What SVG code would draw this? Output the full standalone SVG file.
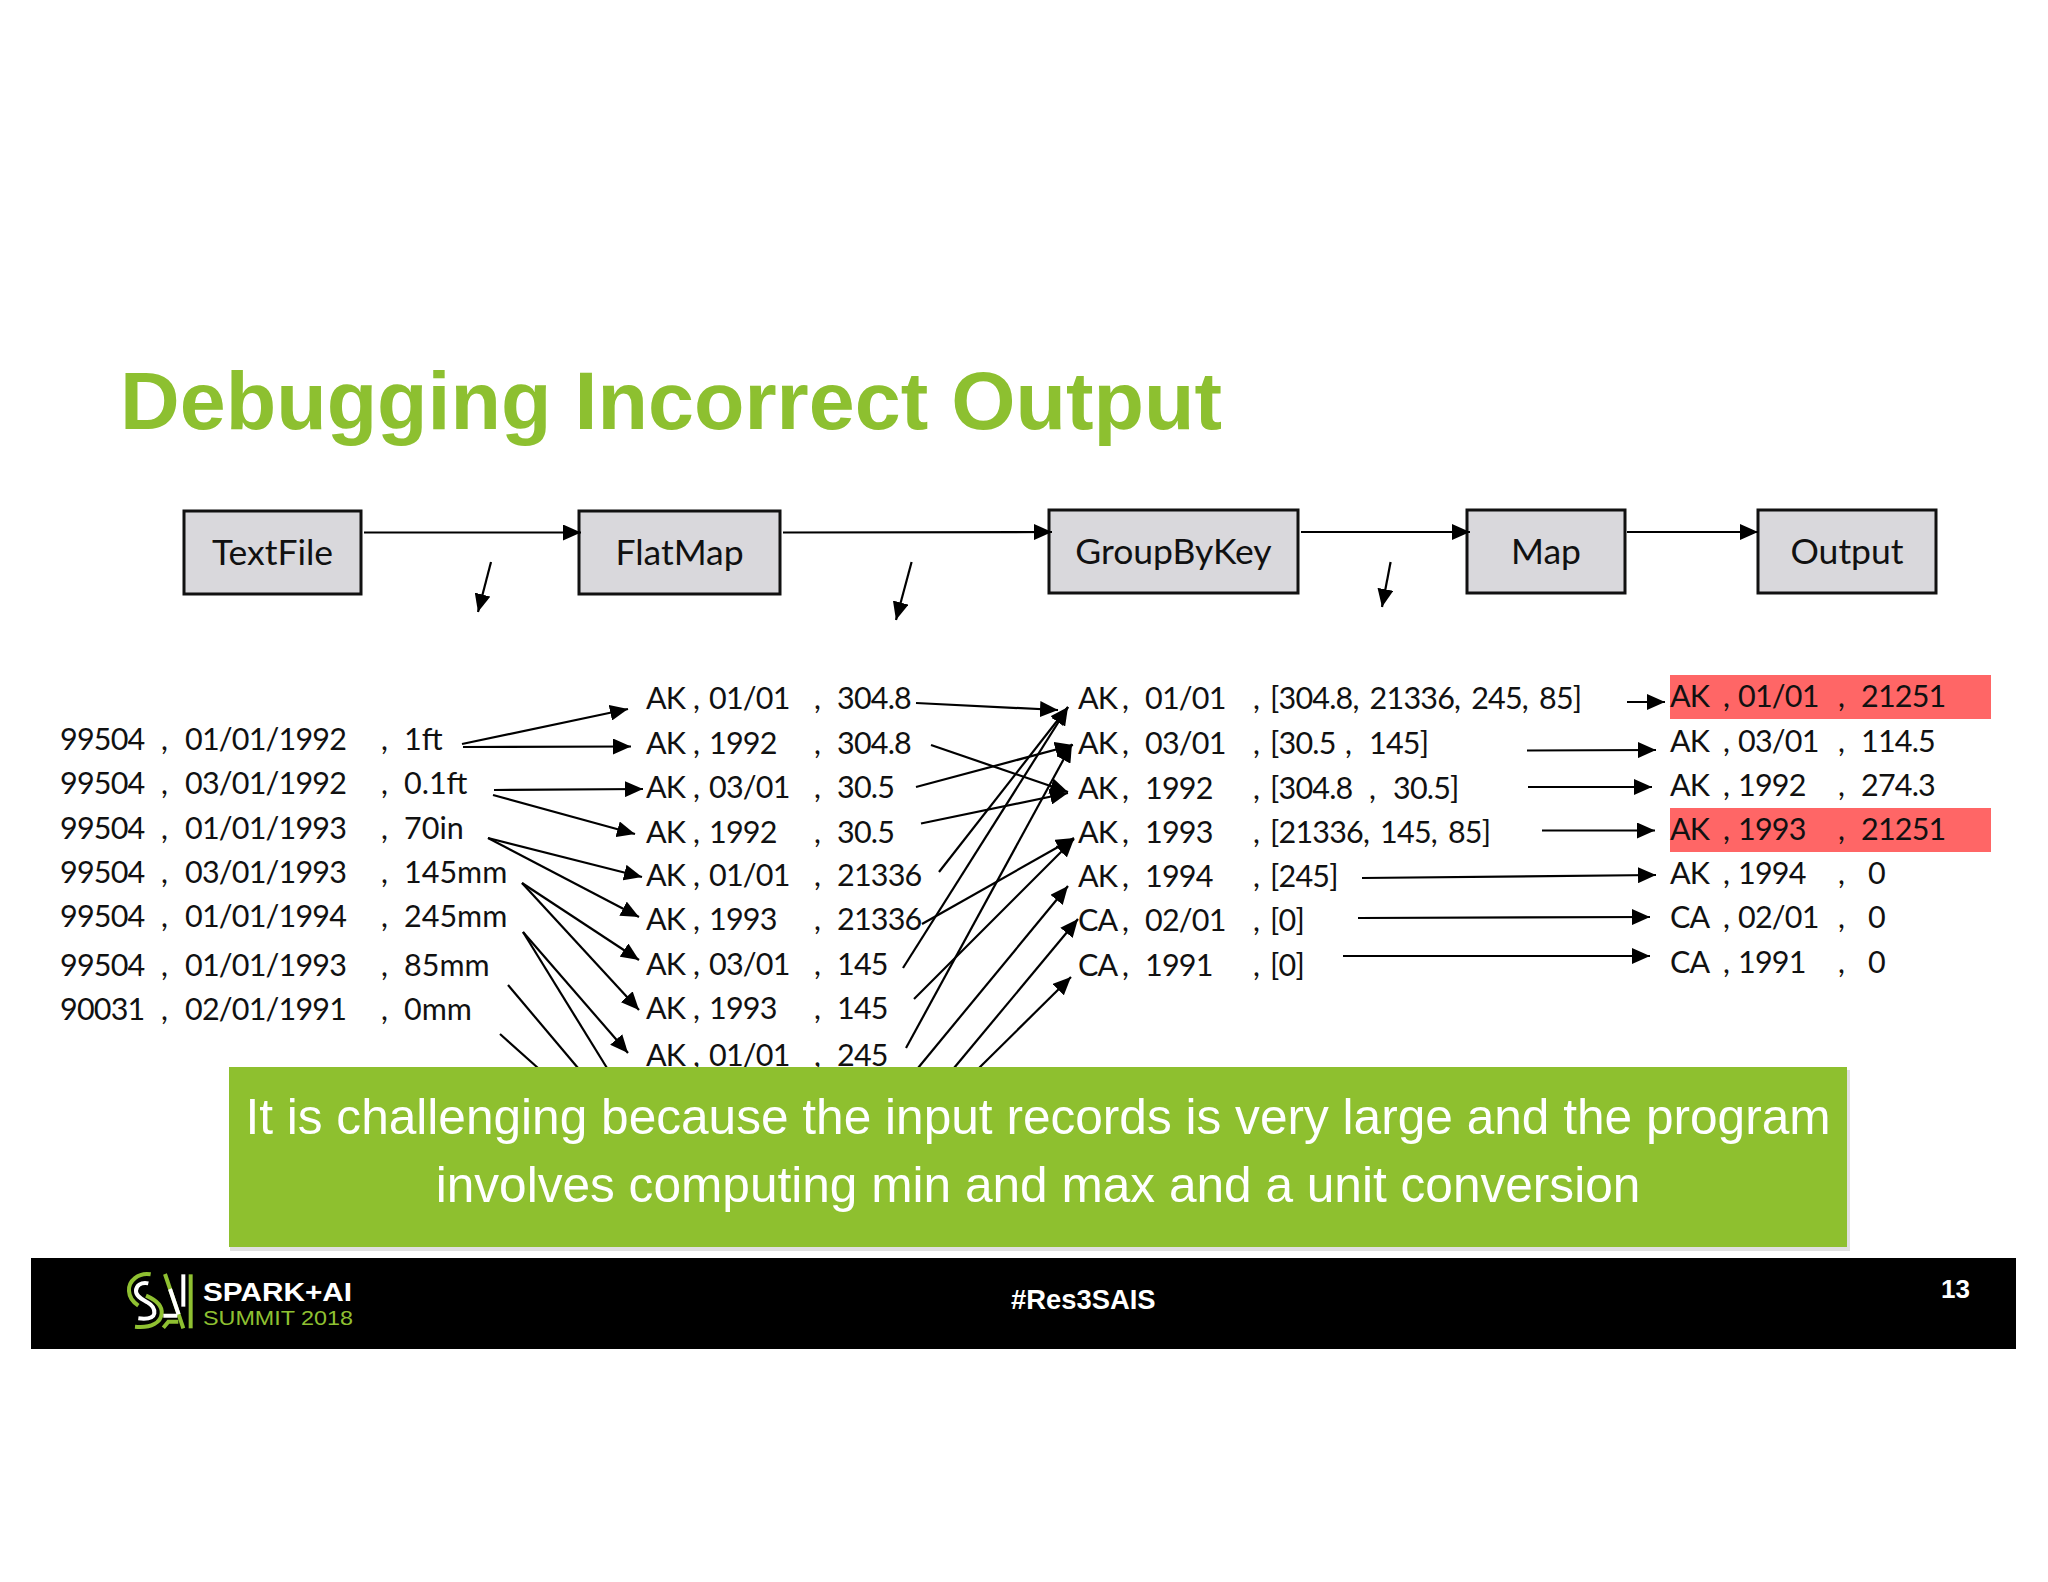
<svg xmlns="http://www.w3.org/2000/svg" width="2048" height="1582" viewBox="0 0 2048 1582">
<style>
.t{font-family:"Lato","Carlito","Liberation Sans",sans-serif;font-size:30.500px;fill:#111;letter-spacing:-.8px;word-spacing:4px}
.u{letter-spacing:0}
.b{font-family:"Lato","Carlito","Liberation Sans",sans-serif;font-size:35.500px;fill:#111;text-anchor:middle}
.box{fill:#d9d8dc;stroke:#111;stroke-width:3}
.a{fill:none;stroke:#000;stroke-width:2.200;marker-end:url(#ah)}
.l{fill:none;stroke:#000;stroke-width:2.200}
.s{font-family:"Liberation Sans",Arial,sans-serif}
.lg{fill:none;stroke:#8fc031;stroke-width:12}
.lw{fill:none;stroke:#fff;stroke-width:12}
</style>
<defs>
<marker id="ah" markerUnits="userSpaceOnUse" markerWidth="20" markerHeight="16" refX="18" refY="8" orient="auto"><path d="M0 0L18 8L0 16Z" fill="#000"/></marker>
</defs>
<rect width="2048" height="1582" fill="#fff"/>
<text id="title" class="s" x="120" y="429" font-size="82" font-weight="700" fill="#8dc030" textLength="1102" lengthAdjust="spacingAndGlyphs">Debugging Incorrect Output</text>

<g id="node-textfile"><rect class="box" x="184" y="511" width="177" height="83"/><text class="b" x="272.500" y="565">TextFile</text></g>
<g id="node-flatmap"><rect class="box" x="579" y="511" width="201" height="83"/><text class="b" x="679.500" y="565">FlatMap</text></g>
<g id="node-groupbykey"><rect class="box" x="1049" y="510" width="249" height="83"/><text class="b" x="1173.500" y="564">GroupByKey</text></g>
<g id="node-map"><rect class="box" x="1467" y="510" width="158" height="83"/><text class="b" x="1546" y="564">Map</text></g>
<g id="node-output"><rect class="box" x="1758" y="510" width="178" height="83"/><text class="b" x="1847" y="564">Output</text></g>

<g id="highlights"><rect x="1670" y="675" width="321" height="44" fill="#ff6666"/><rect x="1670" y="808" width="321" height="44" fill="#ff6666"/></g>

<g id="connectors">
<path class="a" d="M364 532.500H581"/><path class="a" d="M783 532.500L1052 532"/><path class="a" d="M1301 532H1470"/><path class="a" d="M1627 532H1758"/>
<path class="a" d="M491 562L478 612"/><path class="a" d="M911.600 562L896 620"/><path class="a" d="M1390.600 562L1382 607"/>
<path class="a" d="M462 744L628 709"/><path class="a" d="M463 747L631 746.500"/><path class="a" d="M494 790L643 789"/><path class="a" d="M493 795L635 834"/>
<path class="a" d="M488 838L642 877"/><path class="a" d="M488 838L639 917"/><path class="a" d="M522 883L639 960"/><path class="a" d="M522 883L639 1010"/>
<path class="a" d="M523 932L628 1053"/><path class="l" d="M523 932L607 1068"/><path class="l" d="M508 985L578 1068"/><path class="l" d="M500 1034L538 1068"/>
<path class="a" d="M916 703L1058 710"/><path class="a" d="M931 745L1068 792"/><path class="a" d="M916 787L1073 745"/><path class="a" d="M921 823.500L1068 793"/>
<path class="a" d="M939 872L1068 707"/><path class="a" d="M922 924L1074 838"/><path class="a" d="M903 968L1068 707"/><path class="a" d="M914 999L1074 839"/>
<path class="a" d="M906 1048L1072 744"/><path class="a" d="M918 1068L1068 886"/><path class="a" d="M954 1068L1078 919"/><path class="a" d="M979 1068L1071 977"/>
<path class="a" d="M1627 702H1665"/><path class="a" d="M1527 750.500L1656 750"/><path class="a" d="M1528 787H1652"/><path class="a" d="M1542 830.500H1655"/><path class="a" d="M1362 878L1656 875"/><path class="a" d="M1358 918L1650 917"/><path class="a" d="M1343 956H1650"/>
</g>

<g id="input-records" class="t">
<text y="750"><tspan x="60">99504</tspan><tspan x="161">,</tspan><tspan x="185">01/01/1992</tspan><tspan x="381">,</tspan><tspan x="404" class="u">1ft</tspan></text>
<text y="794"><tspan x="60">99504</tspan><tspan x="161">,</tspan><tspan x="185">03/01/1992</tspan><tspan x="381">,</tspan><tspan x="404" class="u">0.1ft</tspan></text>
<text y="839"><tspan x="60">99504</tspan><tspan x="161">,</tspan><tspan x="185">01/01/1993</tspan><tspan x="381">,</tspan><tspan x="404" class="u">70in</tspan></text>
<text y="883"><tspan x="60">99504</tspan><tspan x="161">,</tspan><tspan x="185">03/01/1993</tspan><tspan x="381">,</tspan><tspan x="404" class="u">145mm</tspan></text>
<text y="927"><tspan x="60">99504</tspan><tspan x="161">,</tspan><tspan x="185">01/01/1994</tspan><tspan x="381">,</tspan><tspan x="404" class="u">245mm</tspan></text>
<text y="976"><tspan x="60">99504</tspan><tspan x="161">,</tspan><tspan x="185">01/01/1993</tspan><tspan x="381">,</tspan><tspan x="404" class="u">85mm</tspan></text>
<text y="1020"><tspan x="60">90031</tspan><tspan x="161">,</tspan><tspan x="185">02/01/1991</tspan><tspan x="381">,</tspan><tspan x="404" class="u">0mm</tspan></text>
</g>

<g id="flatmap-records" class="t">
<text y="709"><tspan x="646">AK</tspan><tspan x="693">,</tspan><tspan x="709">01/01</tspan><tspan x="814">,</tspan><tspan x="837">304.8</tspan></text>
<text y="754"><tspan x="646">AK</tspan><tspan x="693">,</tspan><tspan x="709">1992</tspan><tspan x="814">,</tspan><tspan x="837">304.8</tspan></text>
<text y="798"><tspan x="646">AK</tspan><tspan x="693">,</tspan><tspan x="709">03/01</tspan><tspan x="814">,</tspan><tspan x="837">30.5</tspan></text>
<text y="843"><tspan x="646">AK</tspan><tspan x="693">,</tspan><tspan x="709">1992</tspan><tspan x="814">,</tspan><tspan x="837">30.5</tspan></text>
<text y="886"><tspan x="646">AK</tspan><tspan x="693">,</tspan><tspan x="709">01/01</tspan><tspan x="814">,</tspan><tspan x="837">21336</tspan></text>
<text y="930"><tspan x="646">AK</tspan><tspan x="693">,</tspan><tspan x="709">1993</tspan><tspan x="814">,</tspan><tspan x="837">21336</tspan></text>
<text y="975"><tspan x="646">AK</tspan><tspan x="693">,</tspan><tspan x="709">03/01</tspan><tspan x="814">,</tspan><tspan x="837">145</tspan></text>
<text y="1019"><tspan x="646">AK</tspan><tspan x="693">,</tspan><tspan x="709">1993</tspan><tspan x="814">,</tspan><tspan x="837">145</tspan></text>
<text y="1066"><tspan x="646">AK</tspan><tspan x="693">,</tspan><tspan x="709">01/01</tspan><tspan x="814">,</tspan><tspan x="837">245</tspan></text>
</g>

<g id="group-records" class="t">
<text y="709"><tspan x="1078">AK</tspan><tspan x="1122">,</tspan><tspan x="1145">01/01</tspan><tspan x="1253">,</tspan><tspan x="1270">[304.8, 21336, 245, 85]</tspan></text>
<text y="754"><tspan x="1078">AK</tspan><tspan x="1122">,</tspan><tspan x="1145">03/01</tspan><tspan x="1253">,</tspan><tspan x="1270">[30.5</tspan><tspan x="1345">,</tspan><tspan x="1369">145]</tspan></text>
<text y="799"><tspan x="1078">AK</tspan><tspan x="1122">,</tspan><tspan x="1145">1992</tspan><tspan x="1253">,</tspan><tspan x="1270">[304.8</tspan><tspan x="1369">,</tspan><tspan x="1393">30.5]</tspan></text>
<text y="843"><tspan x="1078">AK</tspan><tspan x="1122">,</tspan><tspan x="1145">1993</tspan><tspan x="1253">,</tspan><tspan x="1270">[21336, 145, 85]</tspan></text>
<text y="887"><tspan x="1078">AK</tspan><tspan x="1122">,</tspan><tspan x="1145">1994</tspan><tspan x="1253">,</tspan><tspan x="1270">[245]</tspan></text>
<text y="931"><tspan x="1078">CA</tspan><tspan x="1122">,</tspan><tspan x="1145">02/01</tspan><tspan x="1253">,</tspan><tspan x="1270">[0]</tspan></text>
<text y="976"><tspan x="1078">CA</tspan><tspan x="1122">,</tspan><tspan x="1145">1991</tspan><tspan x="1253">,</tspan><tspan x="1270">[0]</tspan></text>
</g>

<g id="output-records" class="t">
<text y="707"><tspan x="1670">AK</tspan><tspan x="1723">,</tspan><tspan x="1738">01/01</tspan><tspan x="1838">,</tspan><tspan x="1861">21251</tspan></text>
<text y="752"><tspan x="1670">AK</tspan><tspan x="1723">,</tspan><tspan x="1738">03/01</tspan><tspan x="1838">,</tspan><tspan x="1861">114.5</tspan></text>
<text y="796"><tspan x="1670">AK</tspan><tspan x="1723">,</tspan><tspan x="1738">1992</tspan><tspan x="1838">,</tspan><tspan x="1861">274.3</tspan></text>
<text y="840"><tspan x="1670">AK</tspan><tspan x="1723">,</tspan><tspan x="1738">1993</tspan><tspan x="1838">,</tspan><tspan x="1861">21251</tspan></text>
<text y="884"><tspan x="1670">AK</tspan><tspan x="1723">,</tspan><tspan x="1738">1994</tspan><tspan x="1838">,</tspan><tspan x="1868">0</tspan></text>
<text y="928"><tspan x="1670">CA</tspan><tspan x="1723">,</tspan><tspan x="1738">02/01</tspan><tspan x="1838">,</tspan><tspan x="1868">0</tspan></text>
<text y="973"><tspan x="1670">CA</tspan><tspan x="1723">,</tspan><tspan x="1738">1991</tspan><tspan x="1838">,</tspan><tspan x="1868">0</tspan></text>
</g>

<g id="callout">
<rect x="230" y="1070" width="1620" height="181" fill="#000" opacity=".12"/>
<rect x="229" y="1067" width="1618" height="180" fill="#8ec02f"/>
<text class="s" x="1038" y="1134" font-size="49.600" fill="#fff" text-anchor="middle">It is challenging because the input records is very large and the program</text>
<text class="s" x="1038" y="1202" font-size="49.600" fill="#fff" text-anchor="middle">involves computing min and max and a unit conversion</text>
</g>

<g id="footer">
<rect x="31" y="1258" width="1985" height="91" fill="#000"/>
<g id="logo-mark" transform="translate(120 1265) scale(.3333)">
<path class="lg" d="M92 28C55 22 25 48 27 78C28 100 42 113 55 122"/>
<path class="lg" d="M78 92C108 105 127 122 125 145C123 172 95 190 45 185"/>
<path class="lw" d="M85 55C62 50 48 63 48 78C48 95 68 103 82 112C100 122 104 135 103 145C100 160 80 163 55 160"/>
<path class="lg" d="M135 27L190 190"/>
<path class="lw" d="M150 72L176 148M130 152H172"/>
<path class="lg" d="M130 188L145 170H175"/>
<path class="lw" d="M190 28V125"/>
<path class="lg" d="M212 28V190"/>
</g>
<text class="s" x="203" y="1301" font-weight="700" font-size="25" fill="#fff" textLength="149" lengthAdjust="spacingAndGlyphs">SPARK+AI</text>
<text class="s" x="203" y="1325" font-size="20.500" fill="#8fc031" textLength="150" lengthAdjust="spacingAndGlyphs">SUMMIT 2018</text>
<text class="s" x="1011" y="1309" font-size="27.400" font-weight="700" fill="#fff">#Res3SAIS</text>
<text class="s" x="1941" y="1298" font-size="26" font-weight="700" fill="#fff">13</text>
</g>
</svg>
